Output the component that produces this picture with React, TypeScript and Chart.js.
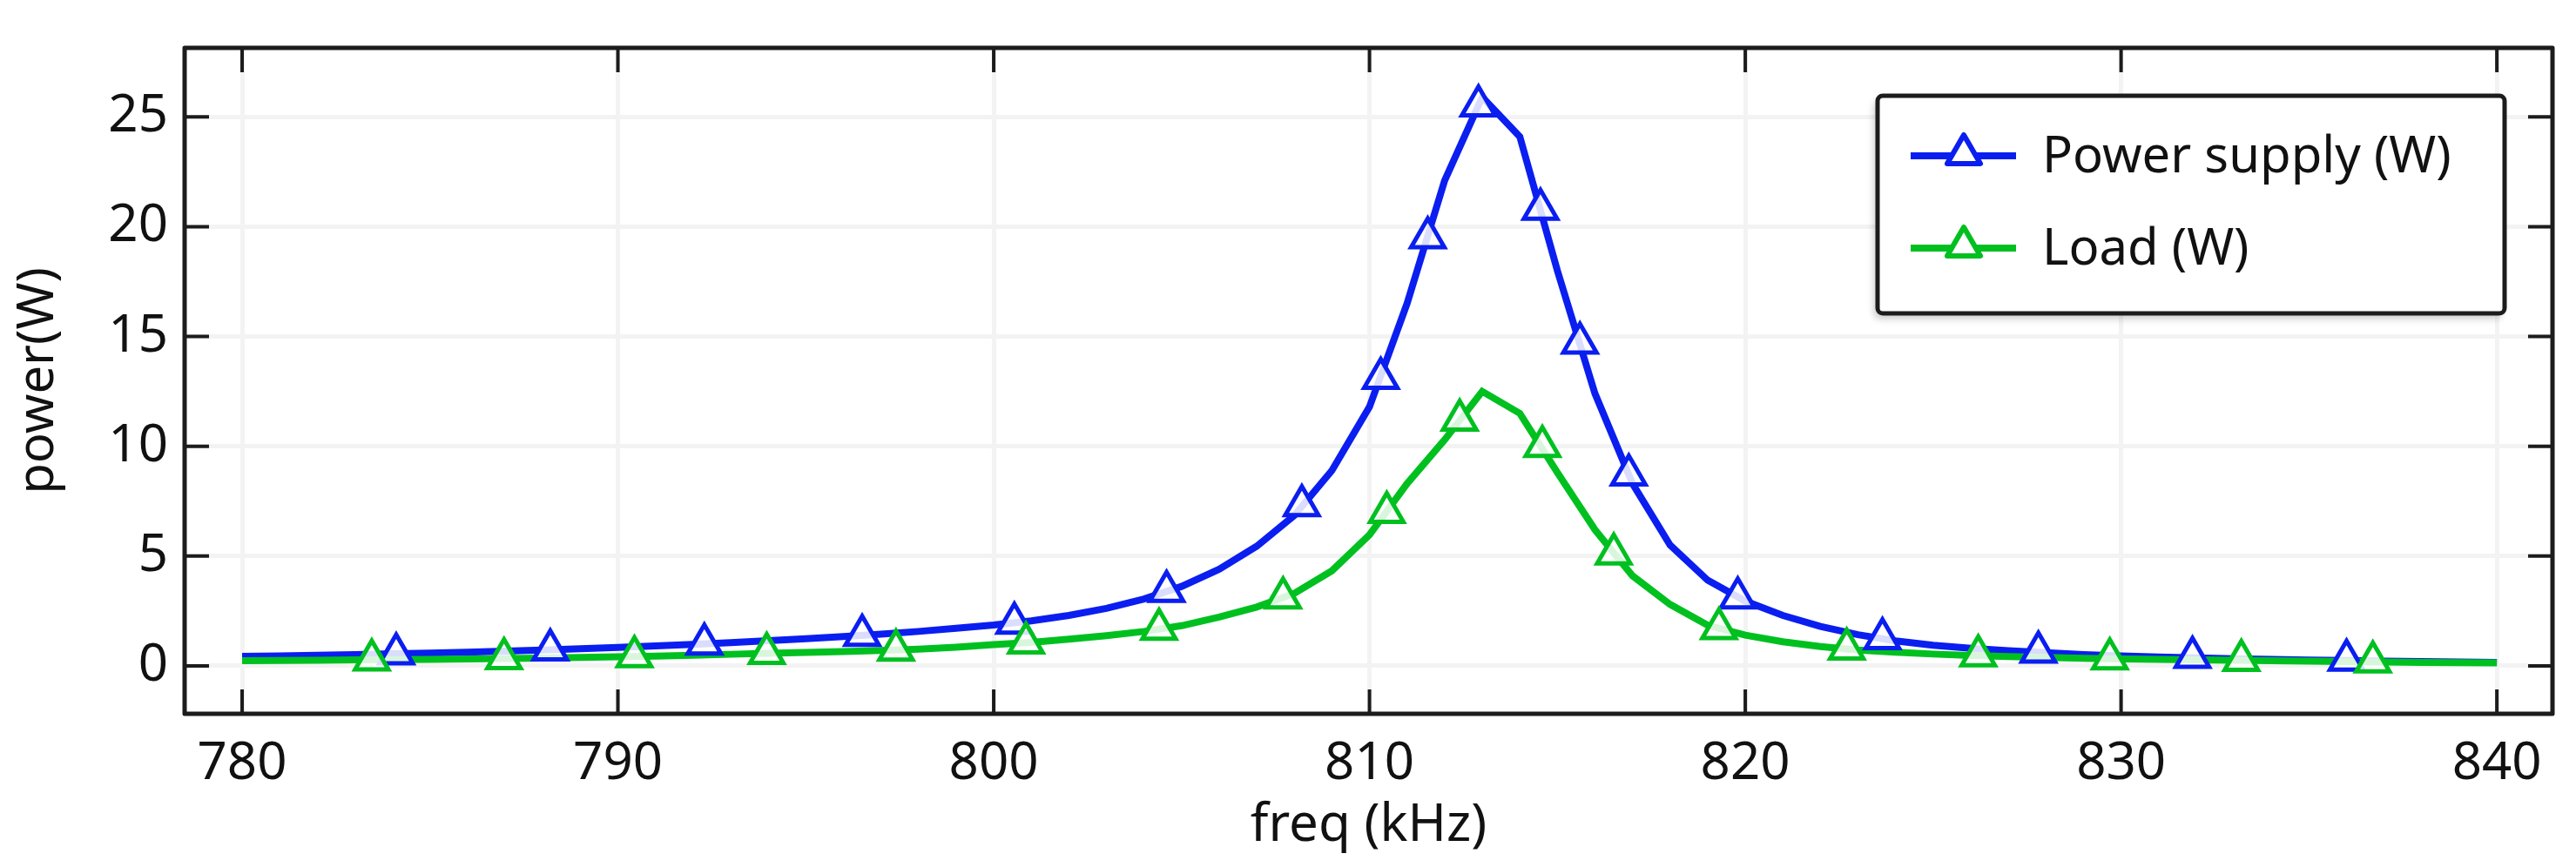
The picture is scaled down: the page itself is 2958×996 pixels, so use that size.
import React, { useEffect, useRef } from "react";
import { Chart, registerables } from "chart.js";

Chart.register(...registerables);

const FREQ = [
  780, 781, 782, 783, 784, 785, 786, 787, 788, 789,
  790, 791, 792, 793, 794, 795, 796, 797, 798, 799,
  800, 801, 802, 803, 804, 805, 806, 807, 808, 809,
  810, 811, 812, 813, 814, 815, 816, 817, 818, 819,
  820, 821, 822, 823, 824, 825, 826, 827, 828, 829,
  830, 831, 832, 833, 834, 835, 836, 837, 838, 839,
  840,
];

const POWER_SUPPLY = [
  0.44, 0.46, 0.49, 0.52, 0.55, 0.58, 0.62, 0.67, 0.72, 0.78,
  0.84, 0.91, 0.98, 1.06, 1.15, 1.24, 1.34, 1.45, 1.57, 1.71,
  1.86, 2.05, 2.3, 2.62, 3.05, 3.62, 4.4, 5.45, 6.85, 8.9,
  11.8, 16.5, 22.1, 25.9, 24.1, 18.0, 12.4, 8.3, 5.5, 3.9,
  2.95, 2.3, 1.8, 1.42, 1.14, 0.94, 0.8, 0.69, 0.6, 0.52,
  0.46, 0.41, 0.37, 0.33, 0.3, 0.27, 0.25, 0.22, 0.2, 0.18,
  0.16,
];

const LOAD = [
  0.24, 0.25, 0.26, 0.28, 0.29, 0.3, 0.32, 0.34, 0.36, 0.39,
  0.42, 0.45, 0.49, 0.53, 0.57, 0.61, 0.65, 0.7, 0.76, 0.85,
  0.97, 1.07, 1.22, 1.38, 1.57, 1.83, 2.22, 2.68, 3.3, 4.33,
  5.97, 8.3, 10.3, 12.5, 11.5, 8.8, 6.2, 4.1, 2.8, 1.85,
  1.4, 1.1, 0.88, 0.72, 0.62, 0.54, 0.48, 0.43, 0.39, 0.35,
  0.32, 0.3, 0.28, 0.26, 0.24, 0.22, 0.2, 0.18, 0.16, 0.15,
  0.14,
];

const PS_MARK_FREQ = [
  784.1, 788.2, 792.3, 796.5, 800.55, 804.6, 808.2, 810.3, 811.55,
  812.9, 814.55, 815.6, 816.9, 819.8, 823.65, 827.8, 831.9, 836.0,
];
const PS_MARK_VAL = [
  0.55, 0.73, 1.0, 1.4, 1.95, 3.4, 7.3, 13.1, 19.5,
  25.5, 20.8, 14.7, 8.7, 3.1, 1.25, 0.63, 0.4, 0.27,
];

const LOAD_MARK_FREQ = [
  783.45, 786.97, 790.44, 793.96, 797.4, 800.86, 804.4, 807.7, 810.46,
  812.4, 814.6, 816.5, 819.3, 822.7, 826.2, 829.7, 833.2, 836.7,
];
const LOAD_MARK_VAL = [
  0.28, 0.34, 0.43, 0.57, 0.72, 1.05, 1.67, 3.1, 7.0,
  11.2, 10.0, 5.1, 1.7, 0.77, 0.47, 0.33, 0.26, 0.19,
];

const X_TICKS = [780, 790, 800, 810, 820, 830, 840];
const Y_TICKS = [0, 5, 10, 15, 20, 25];
const SERIES_NAMES = ["Power supply (W)", "Load (W)"];
const X_TITLE = "freq (kHz)";
const Y_TITLE = "power(W)";

const BLUE = "#0a1ef0";
const GREEN = "#00c020";
const FONT = '"Noto Sans", "Open Sans", sans-serif';

function triPath(ctx: CanvasRenderingContext2D, cx: number, cy: number, r: number) {
  ctx.beginPath();
  ctx.moveTo(cx, cy - r);
  ctx.lineTo(cx + r * 0.866, cy + r / 2);
  ctx.lineTo(cx - r * 0.866, cy + r / 2);
  ctx.closePath();
}

export default function App() {
  const ref = useRef<HTMLCanvasElement>(null);

  useEffect(() => {
    const canvas = ref.current!;

    const framePlugin = {
      id: "frameAndLegend",
      afterDatasetsDraw(chart: any) {
        const { ctx, chartArea: a, scales } = chart;
        const xs = scales.x;
        const ys = scales.y;
        ctx.save();
        ctx.strokeStyle = "#1c1c1c";
        ctx.lineWidth = 5;
        ctx.lineJoin = "round";
        ctx.strokeRect(a.left, a.top, a.right - a.left, a.bottom - a.top);
        const T = 28;
        ctx.lineWidth = 4;
        ctx.beginPath();
        X_TICKS.forEach((v) => {
          const px = xs.getPixelForValue(v);
          ctx.moveTo(px, a.bottom);
          ctx.lineTo(px, a.bottom - T);
          ctx.moveTo(px, a.top);
          ctx.lineTo(px, a.top + T);
        });
        Y_TICKS.forEach((v) => {
          const py = ys.getPixelForValue(v);
          ctx.moveTo(a.left, py);
          ctx.lineTo(a.left + T, py);
          ctx.moveTo(a.right, py);
          ctx.lineTo(a.right - T, py);
        });
        ctx.stroke();

        const bw = 720;
        const bh = 250;
        const bx = a.right - 55 - bw;
        const by = a.top + 55;
        ctx.save();
        ctx.shadowColor = "rgba(0,0,0,0.22)";
        ctx.shadowBlur = 8;
        ctx.shadowOffsetX = -4;
        ctx.shadowOffsetY = 6;
        ctx.fillStyle = "#ffffff";
        ctx.beginPath();
        (ctx as any).roundRect(bx, by, bw, bh, 6);
        ctx.fill();
        ctx.restore();
        ctx.strokeStyle = "#1c1c1c";
        ctx.lineWidth = 5;
        ctx.beginPath();
        (ctx as any).roundRect(bx, by, bw, bh, 6);
        ctx.stroke();

        const colors = [BLUE, GREEN];
        const rows = [69, 175];
        SERIES_NAMES.forEach((name, i) => {
          const cy = by + rows[i];
          ctx.strokeStyle = colors[i];
          ctx.lineWidth = 8;
          ctx.beginPath();
          ctx.moveTo(bx + 38, cy);
          ctx.lineTo(bx + 159, cy);
          ctx.stroke();
          ctx.lineWidth = 6;
          ctx.fillStyle = "#ffffff";
          triPath(ctx, bx + 99, cy - 2, 22);
          ctx.fill();
          ctx.stroke();
          ctx.fillStyle = "#111111";
          ctx.font = `58px ${FONT}`;
          ctx.textBaseline = "middle";
          ctx.textAlign = "left";
          ctx.fillText(name, bx + 189, cy + 2);
        });
        ctx.restore();
      },
    };

    const lineData = (ys: number[]) => FREQ.map((f, i) => ({ x: f, y: ys[i] }));
    const markData = (xs: number[], ys: number[]) => xs.map((f, i) => ({ x: f, y: ys[i] }));

    const chart = new Chart(canvas, {
      type: "scatter",
      data: {
        datasets: [
          {
            label: SERIES_NAMES[0],
            data: lineData(POWER_SUPPLY),
            showLine: true,
            borderColor: BLUE,
            borderWidth: 8,
            pointRadius: 0,
            tension: 0,
            order: 4,
          },
          {
            label: SERIES_NAMES[1],
            data: lineData(LOAD),
            showLine: true,
            borderColor: GREEN,
            borderWidth: 8,
            pointRadius: 0,
            tension: 0,
            order: 3,
          },
          {
            label: SERIES_NAMES[0] + " markers",
            data: markData(PS_MARK_FREQ, PS_MARK_VAL),
            showLine: false,
            pointStyle: "triangle",
            pointRadius: 22,
            pointBorderWidth: 5,
            pointBorderColor: BLUE,
            pointBackgroundColor: "rgba(255,255,255,0.85)",
            order: 2,
          },
          {
            label: SERIES_NAMES[1] + " markers",
            data: markData(LOAD_MARK_FREQ, LOAD_MARK_VAL),
            showLine: false,
            pointStyle: "triangle",
            pointRadius: 22,
            pointBorderWidth: 5,
            pointBorderColor: GREEN,
            pointBackgroundColor: "rgba(255,255,255,0.85)",
            order: 1,
          },
        ],
      },
      options: {
        animation: false,
        responsive: false,
        devicePixelRatio: 1,
        layout: { padding: { top: 28, right: 23, left: 0, bottom: 0 } },
        plugins: {
          legend: { display: false },
          tooltip: { enabled: false },
        },
        scales: {
          x: {
            type: "linear",
            min: 778.47,
            max: 841.48,
            afterBuildTicks: (s: any) => {
              s.ticks = X_TICKS.map((v) => ({ value: v }));
            },
            afterFit: (s: any) => {
              s.height = 176;
            },
            grid: { color: "#f3f3f3", lineWidth: 5, drawTicks: false },
            border: { display: false },
            ticks: {
              padding: 22,
              color: "#111111",
              font: { family: FONT, size: 60 },
              maxRotation: 0,
              autoSkip: false,
            },
            title: {
              display: true,
              text: X_TITLE,
              color: "#111111",
              font: { family: FONT, size: 60 },
              padding: { top: 0, bottom: 11 },
            },
          },
          y: {
            type: "linear",
            min: -2.18,
            max: 28.14,
            afterBuildTicks: (s: any) => {
              s.ticks = Y_TICKS.map((v) => ({ value: v }));
            },
            afterFit: (s: any) => {
              s.width = 212;
            },
            grid: { color: "#f3f3f3", lineWidth: 5, drawTicks: false },
            border: { display: false },
            ticks: {
              padding: 19,
              color: "#111111",
              font: { family: FONT, size: 60 },
              autoSkip: false,
            },
            title: {
              display: true,
              text: Y_TITLE,
              color: "#111111",
              font: { family: FONT, size: 58 },
              padding: { top: 10, bottom: 0 },
            },
          },
        },
      },
      plugins: [framePlugin],
    } as any);

    return () => chart.destroy();
  }, []);

  return (
    <div
      style={{
        position: "absolute",
        left: 0,
        top: 0,
        width: 2958,
        height: 996,
        background: "#ffffff",
      }}
    >
      <canvas
        ref={ref}
        width={2958}
        height={996}
        style={{ width: 2958, height: 996, display: "block" }}
      />
    </div>
  );
}
